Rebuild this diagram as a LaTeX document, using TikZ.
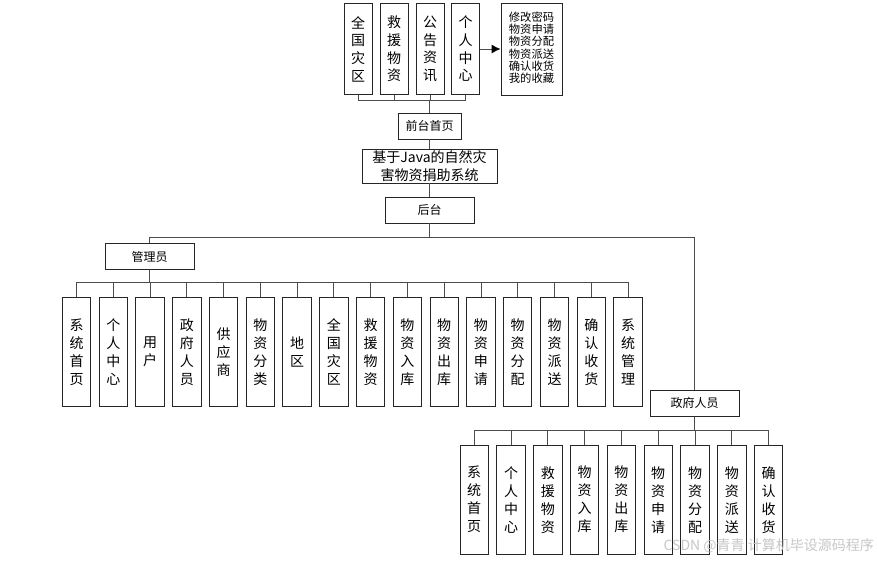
\documentclass[tikz,border=0pt]{standalone}
\usepackage{fontspec}
\setmainfont{Noto Sans CJK SC}
\usetikzlibrary{arrows.meta}
\tikzset{
  box/.style={draw=black!85, line width=0.9pt, fill=white, inner sep=0pt, align=center},
  vbox/.style={box, minimum width=28.4pt, minimum height=109pt, font=\fontsize{14}{18}\selectfont},
  tbox/.style={box, minimum width=28pt, minimum height=91pt, font=\fontsize{14}{17.7}\selectfont},
  hbox/.style={box, minimum width=89pt, minimum height=25.5pt, font=\fontsize{12}{14}\selectfont},
  conn/.style={draw=black!70, line width=0.9pt},
}
\begin{document}
\begin{tikzpicture}[x=1pt,y=-1pt]
\useasboundingbox (0,0) rectangle (877,561);
% top row
\node[tbox] (t1) at (358,49) {全\\国\\灾\\区};
\node[tbox] (t2) at (394,49) {救\\援\\物\\资};
\node[tbox] (t3) at (430,49) {公\\告\\资\\讯};
\node[tbox] (t4) at (465.5,49) {个\\人\\中\\心};
\node[box, minimum width=61pt, minimum height=92pt, font=\fontsize{11.3}{11.2}\selectfont] (pc) at (531.5,49) {\raisebox{5pt}{\begin{tabular}{@{}c@{}}修改密码\\[-0.6pt]物资申请\\[-0.6pt]物资分配\\[-0.6pt]物资派送\\[-0.6pt]确认收货\\[-0.6pt]我的收藏\end{tabular}}};
\node[hbox, minimum width=63pt, minimum height=26pt] (qt) at (429.5,126) {前台首页};
\node[box, minimum width=135pt, minimum height=34pt, font=\fontsize{14}{18}\selectfont] (title) at (429.5,166) {基于Java的自然灾\\害物资捐助系统};
\node[hbox, minimum height=26pt] (ht) at (429.5,210) {后台};
\node[hbox] (admin) at (149.5,256.5) {管理员};
\node[hbox] (gov) at (694.7,403.3) {政府人员};

\coordinate (topbus) at (429.5,100.7);
\coordinate (bsplit) at (429.5,237);
\coordinate (abus) at (149.5,282);
\coordinate (gbus) at (694.7,430.7);

\foreach \n in {t1,t2,t3,t4} \draw[conn] (\n.south) |- (topbus);
\draw[conn] (topbus) -- (qt.north);
\draw[conn] (qt.south) -- (title.north);
\draw[conn] (title.south) -- (ht.north);
\draw[conn] (ht.south) -- (bsplit) -| (admin.north);
\draw[conn] (bsplit) -| (gov.north);
\draw[conn, -{Latex[length=9pt,width=9pt,color=black,fill=black]}] (t4.east) -- (pc.west);

% admin children
\foreach \t [count=\i from 0] in {系\\统\\首\\页,个\\人\\中\\心,用\\户,政\\府\\人\\员,供\\应\\商,物\\资\\分\\类,地\\区,全\\国\\灾\\区,救\\援\\物\\资,物\\资\\入\\库,物\\资\\出\\库,物\\资\\申\\请,物\\资\\分\\配,物\\资\\派\\送,确\\认\\收\\货,系\\统\\管\\理}{
  \node[vbox] (m\i) at ({76.5+\i*36.77},352) {\t};
  \draw[conn] (admin.south) -- (abus) -| (m\i.north);
}
% gov children
\foreach \t [count=\i from 0] in {系\\统\\首\\页,个\\人\\中\\心,救\\援\\物\\资,物\\资\\入\\库,物\\资\\出\\库,物\\资\\申\\请,物\\资\\分\\配,物\\资\\派\\送,确\\认\\收\\货}{
  \node[vbox] (g\i) at ({474.2+\i*36.8},499.7) {\t};
  \draw[conn] (gov.south) -- (gbus) -| (g\i.north);
}
\node[anchor=east, text=black!22, font=\fontsize{14}{16}\selectfont, inner sep=0pt] (wm) at (874,546) {CSDN @青青\ 计算机毕设源码程序};
\end{tikzpicture}
\end{document}
